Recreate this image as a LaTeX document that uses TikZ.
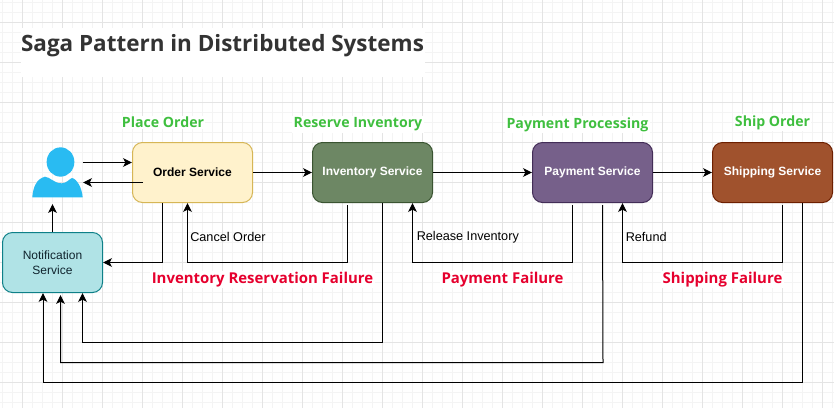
\documentclass[tikz,border=0pt]{standalone}
\usepackage{fontspec}
\setmainfont{Liberation Sans}
\newfontfamily\headfont{Open Sans}
\usetikzlibrary{arrows.meta,calc}
\definecolor{gridminor}{HTML}{F4F4F4}
\definecolor{gridmajor}{HTML}{E4E4E4}
\definecolor{steptext}{HTML}{3FBF3F}
\definecolor{failtext}{HTML}{E6002E}
\definecolor{titletext}{HTML}{333333}
\definecolor{personblue}{HTML}{29BBF2}
\definecolor{ordfill}{HTML}{FFF2CC}\definecolor{ordline}{HTML}{D6B656}
\definecolor{invfill}{HTML}{6D8764}\definecolor{invline}{HTML}{3A5431}
\definecolor{payfill}{HTML}{76608A}\definecolor{payline}{HTML}{432D57}
\definecolor{shipfill}{HTML}{A0522D}\definecolor{shipline}{HTML}{6D1F00}
\definecolor{notfill}{HTML}{B0E3E6}\definecolor{notline}{HTML}{0E8088}
\definecolor{nottext}{HTML}{0F232D}
\tikzset{
  svc/.style={draw=#1,rounded corners=7.5pt,line width=0.75pt,minimum width=90pt,minimum height=45pt,inner sep=0pt,align=center,font=\fontsize{9}{11}\selectfont\bfseries},
  flow/.style={draw=black,line width=0.75pt,-{Stealth[length=6.6pt,width=6.4pt,inset=1.6pt]}},
  steplabel/.style={fill=white,inner sep=1pt,text=steptext,font=\headfont\fontsize{10.6}{12}\selectfont\bfseries},
  faillabel/.style={fill=white,inner sep=1pt,text=failtext,font=\headfont\fontsize{11.2}{13}\selectfont\bfseries},
  note/.style={inner sep=0pt,anchor=west,font=\fontsize{9.5}{11}\selectfont},
}
\begin{document}
\begin{tikzpicture}[x=0.75pt,y=-0.75pt]
\useasboundingbox (0,0) rectangle (834,408);
\fill[white] (0,0) rectangle (834,408);
% grid
\foreach \g in {2.5,12.5,...,832.5} \draw[gridminor,line width=0.75pt] (\g,0) -- (\g,408);
\foreach \g in {2.5,12.5,...,402.5} \draw[gridminor,line width=0.75pt] (0,\g) -- (834,\g);
\foreach \g in {22.5,62.5,...,822.5} \draw[gridmajor,line width=0.75pt] (\g,0) -- (\g,408);
\foreach \g in {22.5,62.5,...,382.5} \draw[gridmajor,line width=0.75pt] (0,\g) -- (834,\g);
% title
\fill[white] (21,28) rectangle (425,77);
\node[inner sep=0pt,text=titletext,font=\headfont\fontsize{16.85}{20}\selectfont\bfseries] (title) at (222.5,46) {Saga Pattern in Distributed Systems};
% services
\node[svc=ordline,fill=ordfill,text=black] (order) at (192.5,172.5) {Order Service};
\node[svc=invline,fill=invfill,text=white] (inventory) at (372.5,172.5) {Inventory Service};
\node[svc=payline,fill=payfill,text=white] (payment) at (592.5,172.5) {Payment Service};
\node[svc=shipline,fill=shipfill,text=white] (shipping) at (772.5,172.5) {Shipping Service};
\node[svc=notline,fill=notfill,minimum width=75pt,font=\fontsize{9}{11.2}\selectfont,text=nottext] (notify) at (52.5,262.5) {Notification\\Service};
% person
\fill[personblue] (60.5,162) ellipse [x radius=10.4pt,y radius=11pt];
\fill[personblue] (32.3,197.3) .. controls (33,188) and (36,179) .. (45,176.7) .. controls (50,177) and (54,183.3) .. (61.5,183.3) .. controls (67,183.3) and (69,179) .. (72,178) .. controls (77,179) and (82,188) .. (82.7,197.3) -- cycle;
\coordinate (personin) at (82.5,162.5);
\coordinate (personout) at (83,182.5);
\coordinate (personfoot) at (52.5,204);
% step labels
\node[steplabel] (lplace) at (163,122.5) {Place Order};
\node[steplabel] (lreserve) at (358,124.5) {Reserve Inventory};
\node[steplabel] (lpay) at (577.5,124.5) {Payment Processing};
\node[steplabel] (lship) at (772.5,122.5) {Ship Order};
% failure labels
\node[faillabel] (lfinv) at (262.5,279.5) {Inventory Reservation Failure};
\node[faillabel] (lfpay) at (502.5,279.5) {Payment Failure};
\node[faillabel] (lfship) at (722.5,279.5) {Shipping Failure};
% compensation labels
\node[note] (lcancel) at (190,237) {Cancel Order};
\node[note] (lrelease) at (416.5,237) {Release Inventory};
\node[note] (lrefund) at (625.5,237) {Refund};
% routing coordinates
\coordinate (cornerA) at (162.5,262.5);
\coordinate (cornerB) at (187.5,262.5);
\coordinate (cornerC) at (412.5,262.5);
\coordinate (cornerD) at (622.5,262.5);
\coordinate (cornerE) at (82.5,342.5);
\coordinate (cornerF) at (60.5,362.5);
\coordinate (cornerG) at (43,382.5);
% forward flows
\draw[flow] (personin) -- (order.west |- personin);
\draw[flow] ($(order.west |- personout)+(11,0)$) -- (personout);
\draw[flow] (order) -- (inventory);
\draw[flow] (inventory) -- (payment);
\draw[flow] (payment) -- (shipping);
\draw[flow] (notify.north) -- (personfoot);
% compensations
\draw[flow] (order.south west -| cornerA) -- (cornerA) -- (notify.east);
\draw[flow] ($(inventory.south west)+(35,2)$) |- (cornerB) -- (order.south -| cornerB);
\draw[flow] ($(payment.south west)+(40,2)$) |- (cornerC) -- (inventory.south -| cornerC);
\draw[flow] ($(shipping.south west)+(70,2)$) |- (cornerD) -- (payment.south -| cornerD);
% failure notifications
\draw[flow] ($(inventory.south west)+(70,0)$) |- (cornerE) -- (notify.south -| cornerE);
\draw[flow] ($(payment.south west)+(70.5,2)$) -- (603,362.5) -- (cornerF) -- ($(notify.south -| cornerF)+(0,2)$);
\draw[flow] ($(shipping.south west)+(90,0)$) |- (cornerG) -- (notify.south -| cornerG);
\end{tikzpicture}
\end{document}
